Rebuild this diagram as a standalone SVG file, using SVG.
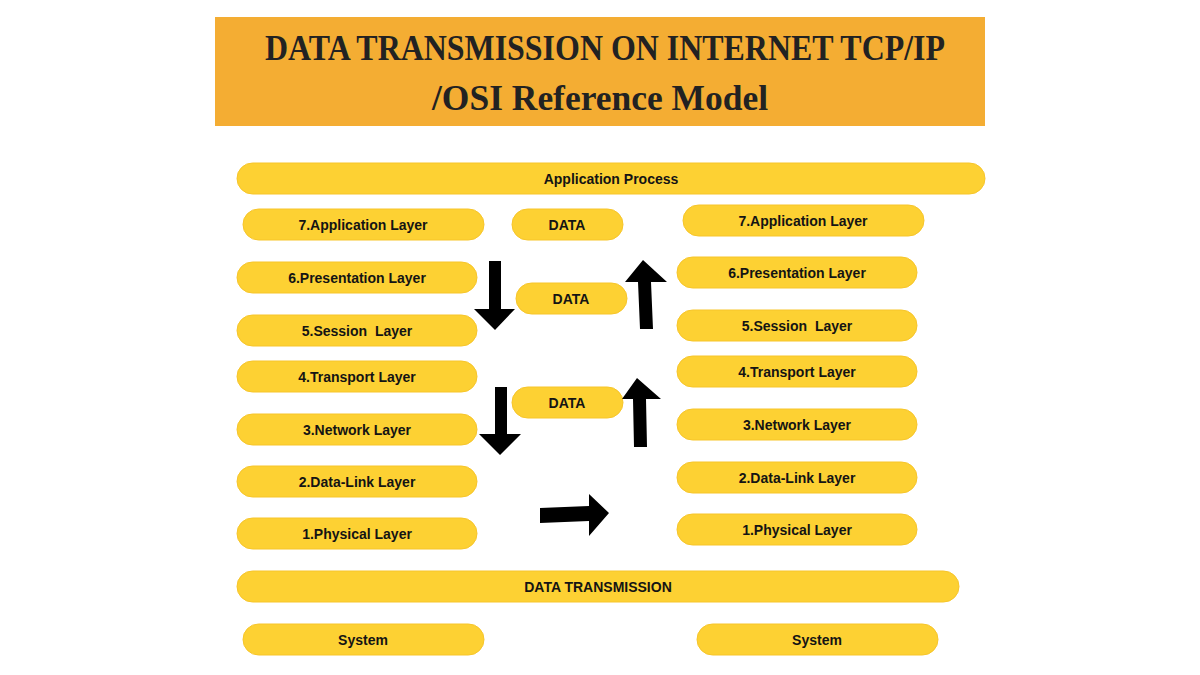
<svg xmlns="http://www.w3.org/2000/svg" width="1200" height="675" viewBox="0 0 1200 675">
<defs>
<style>
.pill{fill:#FDD133;stroke:#F7C52A;stroke-width:1}
.lbl{font-family:"Liberation Sans",Arial,sans-serif;font-weight:bold;font-size:14px;fill:#141414;text-anchor:middle;dominant-baseline:central}
.ttl{font-family:"Liberation Serif","Times New Roman",serif;font-weight:bold;font-size:36px;fill:#222222}
.arr{fill:#000000}
</style>
</defs>
<rect width="1200" height="675" fill="#ffffff"/>
<g id="title">
<rect x="215" y="17" width="770" height="109" fill="#F4AD33"/>
<text class="ttl" x="265" y="60" textLength="680" lengthAdjust="spacingAndGlyphs">DATA TRANSMISSION ON INTERNET TCP/IP</text>
<text class="ttl" x="432" y="110" textLength="336" lengthAdjust="spacingAndGlyphs">/OSI Reference Model</text>
</g>
<g id="app-process"><rect class="pill" x="237" y="163" width="748" height="31" rx="15.5"/><text class="lbl" x="611" y="179">Application Process</text></g>
<g id="l7"><rect class="pill" x="243" y="209" width="241" height="31" rx="15.5"/><text class="lbl" x="363" y="225">7.Application Layer</text></g>
<g id="data1"><rect class="pill" x="512" y="209" width="111" height="31" rx="15.5"/><text class="lbl" x="567" y="225">DATA</text></g>
<g id="r7"><rect class="pill" x="683" y="205" width="241" height="31" rx="15.5"/><text class="lbl" x="803" y="221">7.Application Layer</text></g>
<g id="l6"><rect class="pill" x="237" y="262" width="240" height="31" rx="15.5"/><text class="lbl" x="357" y="278">6.Presentation Layer</text></g>
<g id="l5"><rect class="pill" x="237" y="315" width="240" height="31" rx="15.5"/><text class="lbl" x="357" y="331" xml:space="preserve">5.Session  Layer</text></g>
<g id="l4"><rect class="pill" x="237" y="361" width="240" height="31" rx="15.5"/><text class="lbl" x="357" y="377">4.Transport Layer</text></g>
<g id="l3"><rect class="pill" x="237" y="414" width="240" height="31" rx="15.5"/><text class="lbl" x="357" y="430">3.Network Layer</text></g>
<g id="l2"><rect class="pill" x="237" y="466" width="240" height="31" rx="15.5"/><text class="lbl" x="357" y="482">2.Data-Link Layer</text></g>
<g id="l1"><rect class="pill" x="237" y="518" width="240" height="31" rx="15.5"/><text class="lbl" x="357" y="534">1.Physical Layer</text></g>
<g id="r6"><rect class="pill" x="677" y="257" width="240" height="31" rx="15.5"/><text class="lbl" x="797" y="273">6.Presentation Layer</text></g>
<g id="r5"><rect class="pill" x="677" y="310" width="240" height="31" rx="15.5"/><text class="lbl" x="797" y="326" xml:space="preserve">5.Session  Layer</text></g>
<g id="r4"><rect class="pill" x="677" y="356" width="240" height="31" rx="15.5"/><text class="lbl" x="797" y="372">4.Transport Layer</text></g>
<g id="r3"><rect class="pill" x="677" y="409" width="240" height="31" rx="15.5"/><text class="lbl" x="797" y="425">3.Network Layer</text></g>
<g id="r2"><rect class="pill" x="677" y="462" width="240" height="31" rx="15.5"/><text class="lbl" x="797" y="478">2.Data-Link Layer</text></g>
<g id="r1"><rect class="pill" x="677" y="514" width="240" height="31" rx="15.5"/><text class="lbl" x="797" y="530">1.Physical Layer</text></g>
<g id="data2"><rect class="pill" x="516" y="283" width="111" height="31" rx="15.5"/><text class="lbl" x="571" y="299">DATA</text></g>
<g id="data3"><rect class="pill" x="512" y="387" width="111" height="31" rx="15.5"/><text class="lbl" x="567" y="403">DATA</text></g>
<g id="transmission"><rect class="pill" x="237" y="571" width="722" height="31" rx="15.5"/><text class="lbl" x="598" y="587">DATA TRANSMISSION</text></g>
<g id="sys-left"><rect class="pill" x="243" y="624" width="241" height="31" rx="15.5"/><text class="lbl" x="363" y="640">System</text></g>
<g id="sys-right"><rect class="pill" x="697" y="624" width="241" height="31" rx="15.5"/><text class="lbl" x="817" y="640">System</text></g>
<g id="connectors">
<polygon class="arr" points="489,261 501,261 501,309 515,309 495,330 474,309 489,309"/>
<polygon class="arr" points="495,387 507,387 507,434 521,434 500,455 479,434 495,434"/>
<polygon class="arr" points="640,329 653,329 651,282 667,282 643,260 625,282 638,282"/>
<polygon class="arr" points="634,447 647,447 646,399 661,399 637,378 622,399 633,399"/>
<polygon class="arr" points="540,508 589,506 589,494 609,513 589,536 589,521 540,523"/>
</g>
</svg>
